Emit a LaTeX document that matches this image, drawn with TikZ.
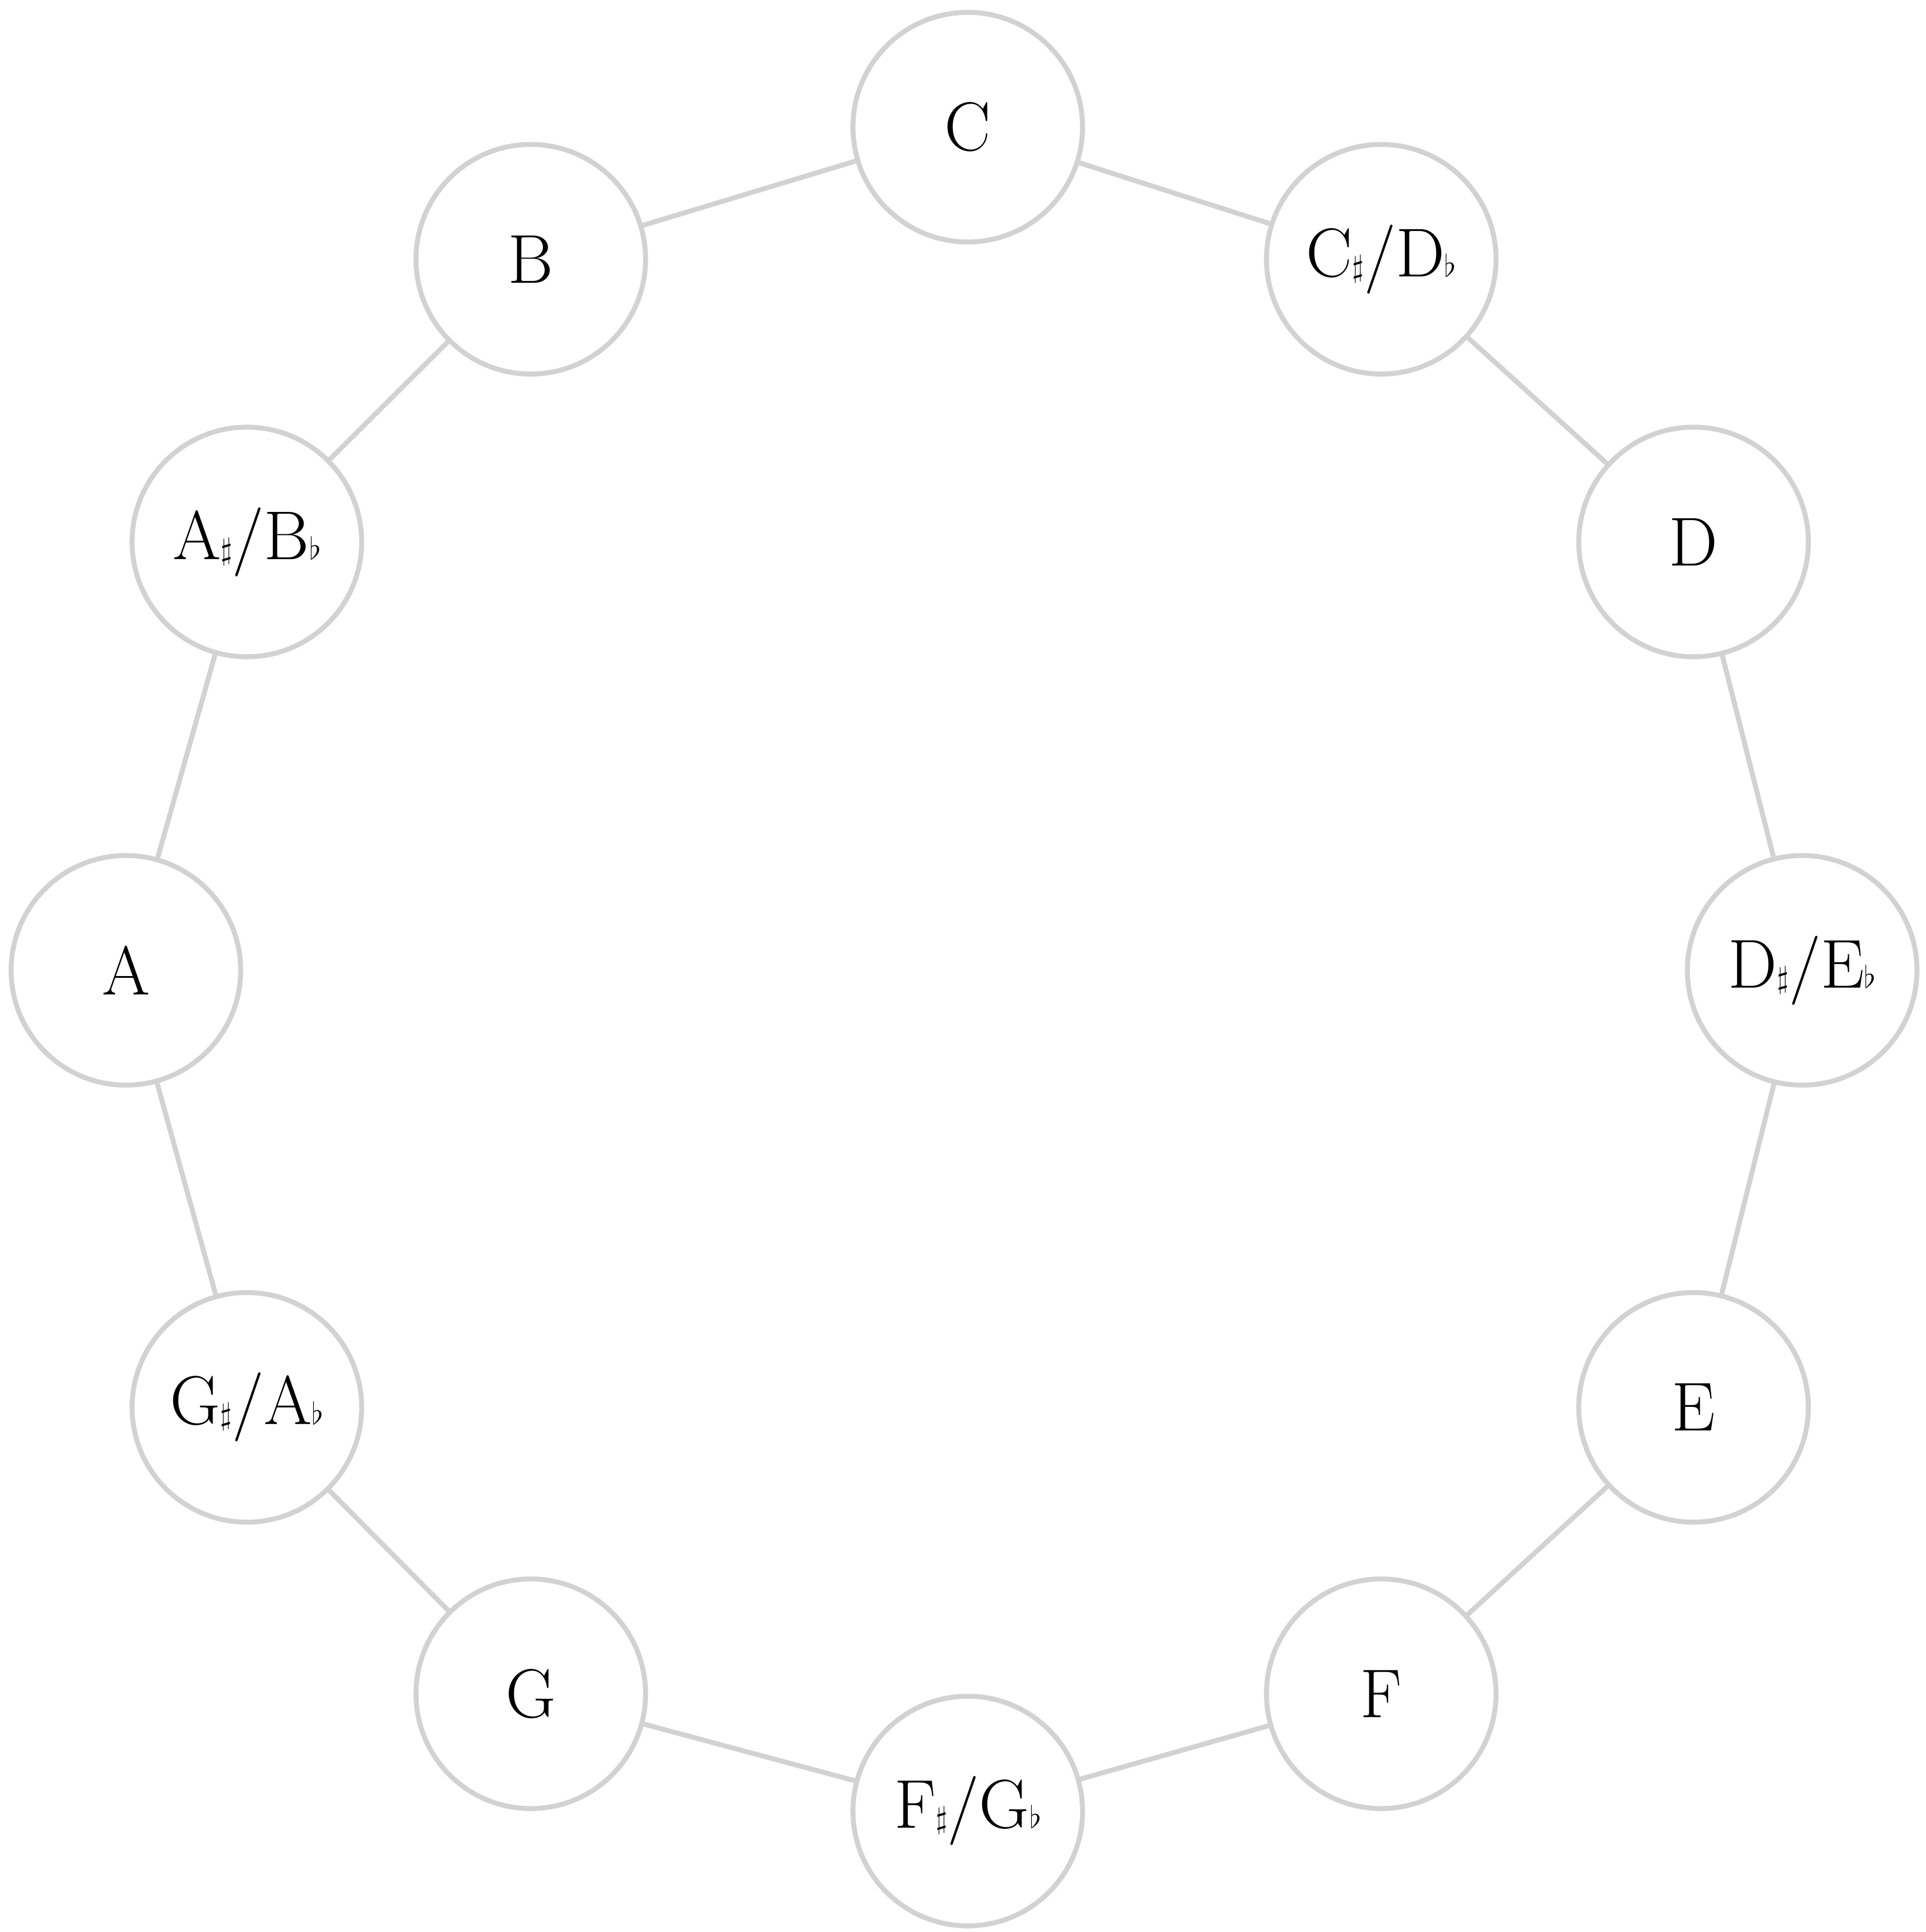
\documentclass[tikz,border=0pt]{standalone}
\begin{document}
\begin{tikzpicture}[x=1pt,y=-1pt,
  note/.style={circle,draw=gray!35,line width=4pt,minimum size=186pt,inner sep=0pt,font=\fontsize{56}{60}\selectfont},
  link/.style={draw=gray!35,line width=4pt}]
\useasboundingbox (0,0) rectangle (1560,1565);
\node[note] (C) at (784,103) {C};
\node[note] (Cs) at (1119,210) {C$\sharp$/D$\flat$};
\node[note] (D) at (1372,439) {D};
\node[note] (Ds) at (1460,786) {D$\sharp$/E$\flat$};
\node[note] (E) at (1372,1140) {E};
\node[note] (F) at (1119,1372) {F};
\node[note] (Fs) at (784,1467) {F$\sharp$/G$\flat$};
\node[note] (G) at (430,1372) {G};
\node[note] (Gs) at (200,1140) {G$\sharp$/A$\flat$};
\node[note] (A) at (102,786) {A};
\node[note] (As) at (200,439) {A$\sharp$/B$\flat$};
\node[note] (B) at (430,210) {B};
\foreach \a/\b in {C/Cs,Cs/D,D/Ds,Ds/E,E/F,F/Fs,Fs/G,G/Gs,Gs/A,A/As,As/B,B/C}
  \draw[link] (\a) -- (\b);
\end{tikzpicture}
\end{document}
